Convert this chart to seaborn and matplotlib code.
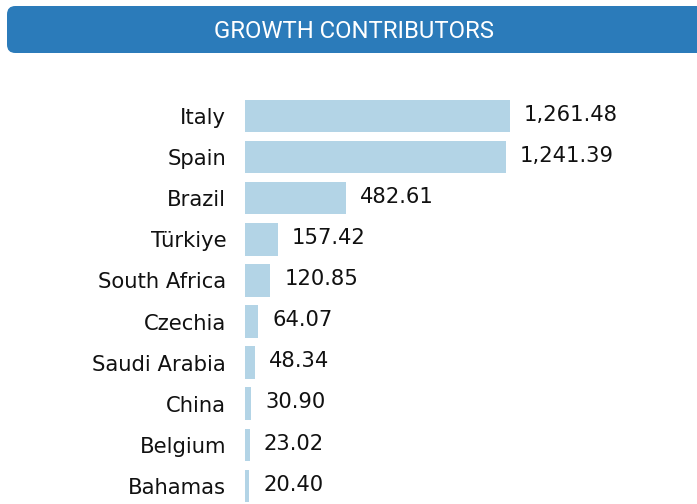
import matplotlib
matplotlib.use("Agg")
import matplotlib.pyplot as plt
from matplotlib.patches import FancyBboxPatch
import pandas as pd
import seaborn as sns

countries = ["Italy", "Spain", "Brazil", "Türkiye", "South Africa",
             "Czechia", "Saudi Arabia", "China", "Belgium", "Bahamas"]
values = [1261.48, 1241.39, 482.61, 157.42, 120.85,
          64.07, 48.34, 30.90, 23.02, 20.40]
title = "GROWTH CONTRIBUTORS"

df = pd.DataFrame({"country": countries, "value": values})

sns.set_theme(style="white")
plt.rcParams["font.family"] = ["DejaVu Sans"]

W, H = 697, 504
fig = plt.figure(figsize=(W / 100, H / 100), dpi=100)

# header banner
banner = FancyBboxPatch((7 / W, 1 - 53 / H), (W + 20) / W, 47 / H,
                        boxstyle="round,pad=0,rounding_size=0.012",
                        transform=fig.transFigure, facecolor="#2b7bba",
                        edgecolor="none", mutation_aspect=W / H)
fig.patches.append(banner)
fig.text(354 / W, 1 - 31 / H, title, color="white", fontsize=17.2,
         family=["Roboto", "DejaVu Sans"], ha="center", va="center")

ax_left, ax_top = 245, 90
ax = fig.add_axes([ax_left / W, 0, (W - ax_left) / W, (H - ax_top) / H])
sns.barplot(data=df, x="value", y="country", orient="h", color="#b3d4e6",
            saturation=1, width=0.79, linewidth=0, ax=ax)

px_per_unit = 265 / 1261.48
ax.set_xlim(0, (W - ax_left) / px_per_unit)
row = 41.1
ax.set_ylim(9 + (504 - (116 + 9 * row)) / row, -(116 - ax_top) / row)

for i, v in enumerate(values):
    ax.text(v + 14 / px_per_unit, i - 0.03, f"{v:,.2f}", va="center", ha="left",
            fontsize=15.2, color="#111111")

ax.set_xlabel("")
ax.set_ylabel("")
ax.set_xticks([])
ax.tick_params(axis="y", length=0, pad=13.5, labelsize=15.2, labelcolor="#111111")
sns.despine(ax=ax, left=True, bottom=True)

fig.savefig("out.png", dpi=100)
